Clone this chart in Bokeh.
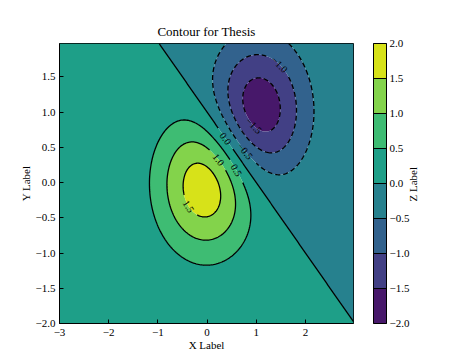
import numpy as np
from bokeh.plotting import figure
from bokeh.plotting.contour import contour_data
from bokeh.models import Range1d, FixedTicker, LinearColorMapper, ColorBar, LinearAxis
from bokeh.palettes import Viridis256
from bokeh.core.properties import value
from bokeh.embed import file_html
from bokeh.resources import INLINE

# ---- data ----
x_start, x_stop, x_step = -3.0, 3.0, 0.025
y_start, y_stop, y_step = -2.0, 2.0, 0.025
peak_x = [0.0, 1.0]
peak_y = [0.0, 1.0]
peak_amp = [2.0, -2.0]
fill_levels = [-2.0, -1.5, -1.0, -0.5, 0.0, 0.5, 1.0, 1.5, 2.0]
line_levels = [-1.5, -1.0, -0.5, 0.0, 0.5, 1.0, 1.5]
x_ticks = [-3, -2, -1, 0, 1, 2]
y_ticks = [-2.0, -1.5, -1.0, -0.5, 0.0, 0.5, 1.0, 1.5]
label_levels = [1.5, 1.0, 0.5, 0.0, -0.5, -1.0, -1.5]
label_anchor_x = [-0.34, 0.22, 0.61, 0.35, 0.80, 1.49, 1.00]
label_anchor_y = [-0.33, 0.32, 0.19, 0.61, 0.45, 1.69, 0.85]

FONT = "Liberation Serif"


def fmt(v, nd=1):
    return f"{v:.{nd}f}".replace("-", "\u2212")


xs = np.arange(x_start, x_stop, x_step)
ys = np.arange(y_start, y_stop, y_step)
X, Y = np.meshgrid(xs, ys)
Z = np.zeros_like(X)
for cx, cy, a in zip(peak_x, peak_y, peak_amp):
    Z += a * np.exp(-(X - cx) ** 2 - (Y - cy) ** 2)

n_bands = len(fill_levels) - 1
band_colors = [Viridis256[int((i + 0.5) / n_bands * 256)] for i in range(n_bands)]

FW, FH = 294, 280
x0, x1 = float(xs[0]), float(xs[-1])
y0, y1 = float(ys[0]), float(ys[-1])

p = figure(frame_width=FW, frame_height=FH,
           x_range=Range1d(x0, x1), y_range=Range1d(y0, y1),
           output_backend="svg", toolbar_location=None,
           min_border_left=59, min_border_right=121,
           min_border_top=43, min_border_bottom=40)
p.background_fill_color = "white"
p.border_fill_color = "white"
p.outline_line_color = "black"
p.outline_line_width = 1
p.xgrid.visible = False
p.ygrid.visible = False

# filled contours
p.contour(xs, ys, Z, levels=fill_levels, fill_color=band_colors, line_color=None)

# contour lines with gaps for inline labels
cd = contour_data(xs, ys, Z, levels=line_levels, want_fill=False, want_line=True)
lxs = [np.array(a, dtype=float).copy() for a in cd.line_data.xs]
lys = [np.array(a, dtype=float).copy() for a in cd.line_data.ys]
sx = FW / (x1 - x0)
sy = FH / (y1 - y0)

lab_x, lab_y, lab_a, lab_t = [], [], [], []
for lev, axp, ayp in zip(label_levels, label_anchor_x, label_anchor_y):
    li = line_levels.index(lev)
    lx, ly = lxs[li], lys[li]
    d = np.hypot((lx - axp) * sx, (ly - ayp) * sy)
    i = int(np.nanargmin(d))
    px, py = lx[i], ly[i]
    k = max(i - 3, 0)
    j = min(i + 3, len(lx) - 1)
    while np.isnan(lx[k]):
        k += 1
    while np.isnan(lx[j]):
        j -= 1
    ang = np.arctan2((ly[j] - ly[k]) * sy, (lx[j] - lx[k]) * sx)
    if ang > np.pi / 2:
        ang -= np.pi
    if ang < -np.pi / 2:
        ang += np.pi
    txt = fmt(lev)
    hw = 3.0 * len(txt) + 3.0
    dd = np.hypot((lx - px) * sx, (ly - py) * sy)
    mask = dd < hw
    lx[mask] = np.nan
    ly[mask] = np.nan
    lab_x.append(px)
    lab_y.append(py)
    lab_a.append(ang)
    lab_t.append(txt)

neg = [i for i, l in enumerate(line_levels) if l < 0]
pos = [i for i, l in enumerate(line_levels) if l >= 0]
p.multi_line([lxs[i] for i in neg], [lys[i] for i in neg],
             line_color="black", line_width=1.3, line_dash="5 3")
p.multi_line([lxs[i] for i in pos], [lys[i] for i in pos],
             line_color="black", line_width=1.3)

p.text(x=lab_x, y=lab_y, text=lab_t, angle=lab_a,
       text_font=value(FONT), text_font_size="10px", text_color="black",
       text_align="center", text_baseline="middle")

# axes
for ax in (p.xaxis, p.yaxis):
    ax.major_tick_in = 4
    ax.major_tick_out = 0
    ax.minor_tick_line_color = None
    ax.axis_line_color = "black"
    ax.major_tick_line_color = "black"
    ax.major_label_text_font = FONT
    ax.major_label_text_font_size = "11px"
    ax.major_label_text_color = "black"
    ax.axis_label_text_font = FONT
    ax.axis_label_text_font_size = "11px"
    ax.axis_label_text_font_style = "normal"
    ax.axis_label_text_color = "black"

p.xaxis.ticker = FixedTicker(ticks=x_ticks)
p.xaxis.major_label_overrides = {t: fmt(t, 0) for t in x_ticks}
p.xaxis.axis_label = "X Label"
p.xaxis.major_label_standoff = 5
p.xaxis.axis_label_standoff = 0
p.yaxis.ticker = FixedTicker(ticks=y_ticks)
p.yaxis.major_label_overrides = {t: fmt(t) for t in y_ticks}
p.yaxis.axis_label = "Y Label"
p.yaxis.major_label_standoff = 4
p.yaxis.axis_label_standoff = 1

p.title.text = "Contour for Thesis"
p.title.align = "center"
p.title.text_font = FONT
p.title.text_font_size = "13px"
p.title.text_font_style = "normal"
p.title.text_color = "black"

mapper = LinearColorMapper(palette=band_colors, low=fill_levels[0], high=fill_levels[-1])
cb = ColorBar(color_mapper=mapper, ticker=FixedTicker(ticks=fill_levels),
              major_label_overrides={t: fmt(t) for t in fill_levels},
              width=13, padding=0, location=(20, 0),
              major_label_text_font=FONT, major_label_text_font_size="11px",
              major_label_text_color="black",
              major_tick_in=13, major_tick_out=0, major_tick_line_color="black",
              major_tick_line_width=1.2,
              bar_line_color="black", label_standoff=3,
              border_line_color=None, background_fill_color=None)
p.add_layout(cb, "right")

# colour-bar label, drawn as a bare axis placed right of the colour bar
zlab_pos = 0.5 - 18.0 / FH
p.extra_y_ranges = {"zlab": Range1d(0, 1)}
zax = LinearAxis(y_range_name="zlab", ticker=FixedTicker(ticks=[zlab_pos]),
                 major_label_overrides={zlab_pos: "Z Label"},
                 major_label_orientation=np.pi / 2,
                 axis_line_color=None, major_tick_line_color=None,
                 minor_tick_line_color=None, major_tick_in=0, major_tick_out=0,
                 major_label_standoff=0,
                 major_label_text_font=FONT, major_label_text_font_size="11px",
                 major_label_text_color="black")
p.add_layout(zax, "right")

open("out.html", "w").write(file_html(p, INLINE))
